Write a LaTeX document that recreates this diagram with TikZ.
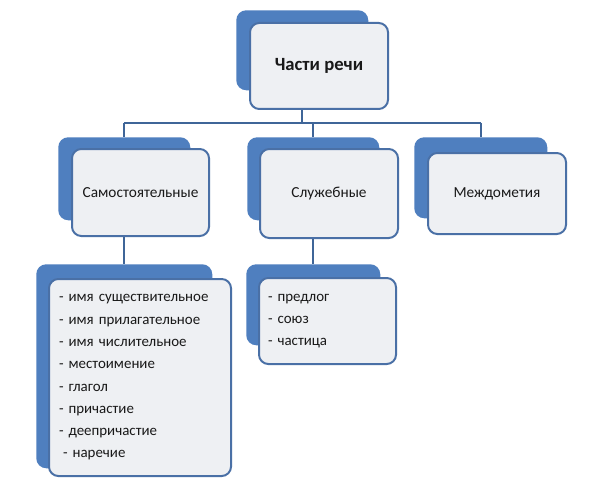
\documentclass[tikz,border=0pt]{standalone}
\usepackage{fontspec}
\setmainfont{Carlito}
\definecolor{bblue}{HTML}{4F7FBF}
\definecolor{fborder}{HTML}{4A70A6}
\definecolor{ffill}{HTML}{EEF0F3}
\definecolor{lineblue}{HTML}{3F6598}
\tikzset{
  backbox/.style={draw=none, fill=bblue, rounded corners=7.5pt, anchor=north west, inner sep=0pt},
  frontbox/.style={draw=fborder, line width=1.5pt, fill=ffill, rounded corners=7pt, anchor=north west,
    inner sep=0pt, font=\fontsize{11.5}{14}\selectfont, text=black!90},
  listbox/.style={frontbox, align=left, inner xsep=7.5pt, font=\fontsize{11.2}{16.7}\selectfont},
  conn/.style={draw=lineblue, line width=1.6pt}
}
\begin{document}
\begin{tikzpicture}[x=0.75pt,y=-0.75pt]
\useasboundingbox[fill=white] (0,0) rectangle (600,485);
% top
\node[backbox, minimum width=132*0.75pt, minimum height=80*0.75pt] (topB) at (236,10) {};
% second level backs
\node[backbox, minimum width=132*0.75pt, minimum height=83*0.75pt] (samB) at (58,137) {};
\node[backbox, minimum width=132*0.75pt, minimum height=83*0.75pt] (sluB) at (247,137) {};
\node[backbox, minimum width=133*0.75pt, minimum height=81*0.75pt] (mejB) at (414,137) {};
% third level backs
\node[backbox, minimum width=176*0.75pt, minimum height=204*0.75pt] (lstAB) at (36,264) {};
\node[backbox, minimum width=134*0.75pt, minimum height=81*0.75pt] (lstBB) at (246,264) {};
% connectors
\coordinate (j0) at (topB.south |- 0,123);
\coordinate (j1) at (samB.north |- j0);
\coordinate (j2) at (sluB.north |- j0);
\coordinate (j3) at (mejB.north |- j0);
\draw[conn] (topB.south) -- (j0);
\draw[conn] (j1) -- (j3);
\draw[conn] (j1) -- (samB.north);
\draw[conn] (j2) -- (sluB.north);
\draw[conn] (j3) -- (mejB.north);
\draw[conn] (samB.south) -- (lstAB.north);
\draw[conn] (sluB.south) -- (lstBB.north);
% fronts
\node[frontbox, minimum width=138*0.75pt, minimum height=86*0.75pt, font=\fontsize{14}{16}\bfseries] (topF) at (249,22) {Части речи};
\node[frontbox, minimum width=137*0.75pt, minimum height=87*0.75pt] (samF) at (71,148) {Самостоятельные};
\node[frontbox, minimum width=138*0.75pt, minimum height=89*0.75pt] (sluF) at (259,148) {Служебные};
\node[frontbox, minimum width=138*0.75pt, minimum height=81*0.75pt] (mejF) at (427,152) {Междометия};
\node[listbox, text width=(182-20)*0.75pt, minimum height=197*0.75pt] (lstAF) at (48,278)
  {- имя существительное\\- имя прилагательное\\- имя числительное\\- местоимение\\- глагол\\- причастие\\- деепричастие\\\hspace{3pt}- наречие};
\node[listbox, text width=(137-18)*0.75pt, inner xsep=6.75pt, minimum height=86*0.75pt] (lstBF) at (258,277)
  {- предлог\\- союз\\- частица};
\end{tikzpicture}
\end{document}
